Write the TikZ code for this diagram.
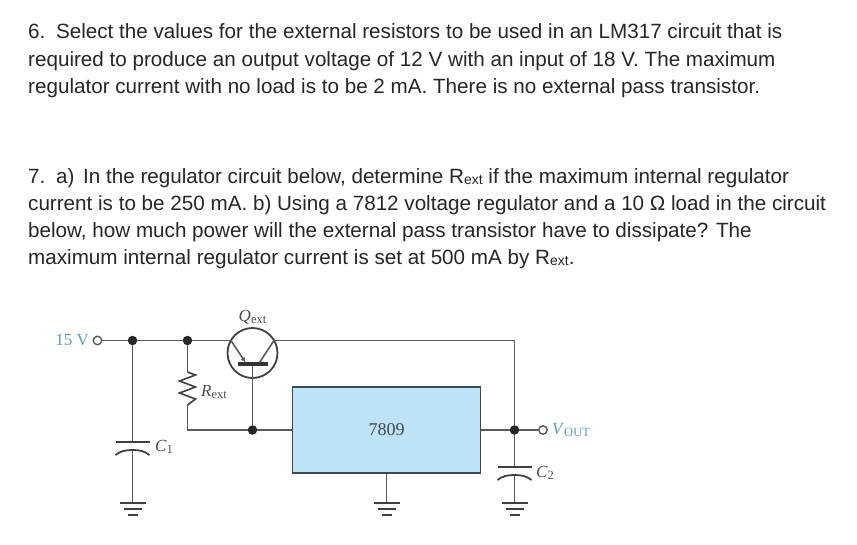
\documentclass[tikz,border=0pt]{standalone}
\usepackage{fontspec}
\setmainfont{Liberation Sans}
\newfontfamily\circfont{Liberation Serif}
\usetikzlibrary{arrows.meta}
\definecolor{wirecol}{HTML}{5A5A5A}
\definecolor{labelcol}{HTML}{5F9DB2}
\definecolor{regfill}{HTML}{BFE3F6}
\definecolor{regedge}{HTML}{3C4A55}
\tikzset{
  textline/.style={anchor=base west,inner sep=0pt,text=black!85,font=\fontsize{20.64}{23}\selectfont},
  wire/.style={draw=wirecol,line width=1.6pt},
  junction/.style={circle,fill=black!85,inner sep=0pt,minimum size=9.5pt},
  terminal/.style={circle,draw=wirecol,fill=white,line width=1.4pt,inner sep=0pt,minimum size=8.5pt},
  partlabel/.style={inner sep=0pt,text=black!70,font=\circfont\fontsize{17}{19}\selectfont},
  termlabel/.style={inner sep=0pt,text=labelcol,font=\circfont\fontsize{17}{19}\selectfont}
}
\newcommand{\rsub}{R\raisebox{-1pt}{\fontsize{14}{15}\selectfont ext}}
\newcommand{\sublabel}[2]{\textit{#1}\raisebox{-2.5pt}{\fontsize{12.5}{14}\selectfont #2}}
\begin{document}
\begin{tikzpicture}[x=1pt,y=-1pt]
    \useasboundingbox (0,0) rectangle (857,544);
    % question text
    \node (qa1) at (28,38) [textline] {6.\kern3pt{} Select the values for the external resistors to be used in an LM317 circuit that is};
    \node (qa2) at (28,66) [textline] {required to produce an output voltage of 12 V with an input of 18 V. The maximum};
    \node (qa3) at (28,93) [textline] {regulator current with no load is to be 2 mA. There is no external pass transistor.};
    \node (qb1) at (28,183) [textline] {7.\kern3pt{} a)\kern3pt{} In the regulator circuit below, determine \rsub{} if the maximum internal regulator};
    \node (qb2) at (28,210) [textline] {current is to be 250 mA. b) Using a 7812 voltage regulator and a 10 Ω load in the circuit};
    \node (qb3) at (28,237) [textline] {below, how much power will the external pass transistor have to dissipate? The};
    \node (qb4) at (28,264) [textline] {maximum internal regulator current is set at 500 mA by \rsub.};
    % regulator and main junctions
    \node (reg) at (386.5,430) [draw=regedge,fill=regfill,line width=1.8pt,minimum width=188pt,minimum height=86pt,inner sep=0pt,
      font=\circfont\fontsize{18}{20}\selectfont,text=regedge] {7809};
    \node (vin) at (97.5,340.5) [terminal] {};
    \node (jc) at (132.5,340.5) [junction] {};
    \node (jr) at (187.5,340.5) [junction] {};
    \node (jb) at (252.5,430) [junction] {};
    \node (jo) at (514.5,430) [junction] {};
    \node (vout) at (543,430) [terminal] {};
    \node (tr) at (252.5,353) [circle,draw=black!75,line width=1.8pt,minimum size=50pt,inner sep=0pt] {};
    \node (bar) at (252.5,364) [fill=black!80,minimum width=30pt,minimum height=3.5pt,inner sep=0pt] {};
    % named free ends
    \coordinate (corner) at (514.5,340.5);
    \coordinate (rtop) at (187.5,372);
    \coordinate (rbot) at (187.5,405);
    \coordinate (rcorner) at (187.5,430);
    \coordinate (emit) at (231,340.5);
    \coordinate (coll) at (274,340.5);
    \coordinate (emitend) at (245.5,362.5);
    \coordinate (collend) at (259.5,362.5);
    \coordinate (cat) at (132.5,442);
    \coordinate (cbt) at (132.5,450);
    \coordinate (dat) at (514.5,467);
    \coordinate (dbt) at (514.5,475);
    \coordinate (g1) at (132.5,503);
    \coordinate (g2) at (386.5,503);
    \coordinate (g3) at (514.5,503);
    % wires
    \draw [wire] (vin) -- (jc);
    \draw [wire] (jc) -- (jr);
    \draw [wire] (jr) -- (emit);
    \draw [wire] (coll) -- (corner) -- (jo);
    \draw [wire] (reg.east) -- (jo);
    \draw [wire] (jo) -- (vout);
    \draw [wire] (reg.west) -- (jb);
    \draw [wire] (jb) -- (rcorner) -- (rbot);
    \draw [wire] (jb) -- (bar);
    \draw [wire] (jr) -- (rtop);
    \draw [wire,draw=black!75] (rtop) -- ++(8,3) -- ++(-16,6) -- ++(16,6) -- ++(-16,6) -- ++(16,6) -- ++(-8,6) -- (rbot);
    \draw [wire] (reg.south) -- (g2);
    \draw [wire] (jc) -- (cat);
    \draw [wire] (cbt) -- (g1);
    \draw [wire] (jo) -- (dat);
    \draw [wire] (dbt) -- (g3);
    % transistor legs
    \draw [wire,-{Latex[length=5pt,width=5pt]}] (emit) -- (emitend);
    \draw [wire] (coll) -- (collend);
    % capacitor plates
    \foreach \p in {cat,dat}
      \draw [line width=1.8pt,draw=black!75] (\p) ++(-17,0) -- ++(34,0);
    \foreach \p in {cbt,dbt}
      \draw [line width=1.8pt,draw=black!75] (\p) ++(-17,5) .. controls +(5,-4) and +(-7,0) .. ++(17,-5)
        .. controls +(7,0) and +(-5,-4) .. ++(17,5);
    % grounds
    \foreach \g in {g1,g2,g3}
    {
      \draw [line width=1.8pt,draw=black!75] (\g) ++(-13,0) -- ++(26,0);
      \draw [line width=1.8pt,draw=black!75] (\g) ++(-9,6) -- ++(18,0);
      \draw [line width=1.8pt,draw=black!75] (\g) ++(-5,12) -- ++(10,0);
    }
    % labels
    \node (vinlabel) at (89,340.5) [termlabel,anchor=east] {15 V};
    \node (voutlabel) at (552,430) [termlabel,anchor=west] {\sublabel{V}{OUT}};
    \node (qlabel) at (252.5,317) [partlabel] {\sublabel{Q}{ext}};
    \node (rlabel) at (201,392) [partlabel,anchor=west] {\sublabel{R}{ext}};
    \node (clabela) at (155,447) [partlabel,anchor=west] {\sublabel{C}{1}};
    \node (clabelb) at (536,473) [partlabel,anchor=west] {\sublabel{C}{2}};
\end{tikzpicture}
\end{document}
